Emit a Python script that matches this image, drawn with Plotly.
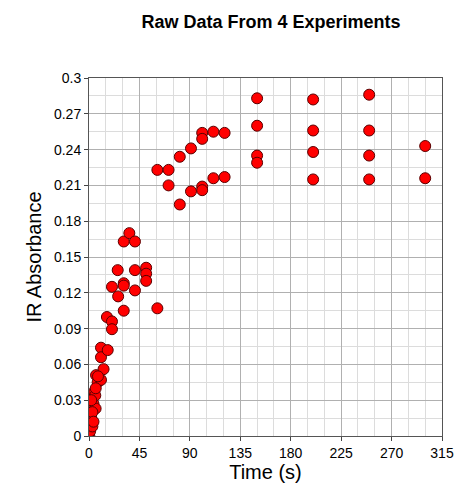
import plotly.graph_objects as go

# time (s) and IR absorbance
time_s = [0.3, 0.3, 1, 1.8, 1.8, 3, 4, 4.7, 5.6, 5.9, 6.3, 7.7, 10.7, 10.7, 10.7, 13, 16.7,
          16, 20.5, 20.5, 20.5, 25.6, 26, 31, 31, 31, 31, 36, 41, 41, 41, 51, 51, 51, 61, 61,
          71, 71, 81, 81, 91, 91, 101, 101, 101, 101, 111, 111, 121, 121,
          150, 150, 150, 150, 200, 200, 200, 200, 250, 250, 250, 250, 300, 300,
          2, 3, 4, 8, 6]
absorbance = [0.0, 0.009, 0.004, 0.018, 0.015, 0.008, 0.027, 0.037, 0.034, 0.023, 0.051, 0.045,
              0.074, 0.066, 0.047, 0.056, 0.072,
              0.0997, 0.125, 0.096, 0.0895, 0.139, 0.117, 0.163, 0.128, 0.126, 0.105, 0.170,
              0.163, 0.139, 0.122, 0.141, 0.136, 0.130, 0.223, 0.107,
              0.223, 0.210, 0.234, 0.194, 0.241, 0.205, 0.254, 0.249, 0.209, 0.206, 0.255,
              0.216, 0.254, 0.217,
              0.283, 0.260, 0.235, 0.229, 0.282, 0.256, 0.238, 0.215, 0.286, 0.256, 0.235,
              0.215, 0.243, 0.216,
              0.030, 0.020, 0.012, 0.050, 0.040]

fig = go.Figure(
    go.Scatter(
        x=time_s,
        y=absorbance,
        mode="markers",
        marker=dict(color="#ff0000", size=11, line=dict(color="#5a0000", width=1)),
    )
)
fig.update_layout(
    width=474,
    height=502,
    plot_bgcolor="white",
    paper_bgcolor="white",
    showlegend=False,
    font=dict(family="Arial, Liberation Sans", color="black", size=14),
    margin=dict(l=81, r=40, t=70, b=74),
    title=dict(text="<b>Raw Data From 4 Experiments</b>", x=0.555, xanchor="center",
               y=0.985, yanchor="top", font=dict(size=18)),
)
fig.update_xaxes(
    range=[0, 315],
    tick0=0,
    dtick=45,
    showgrid=True,
    gridcolor="#b0b0b0",
    minor=dict(dtick=15, showgrid=True, gridcolor="#dcdcdc"),
    linecolor="#555",
    mirror=True,
    zeroline=False,
    ticks="outside",
    ticklen=4,
    automargin=False,
    title=dict(text="Time (s)", font=dict(size=20), standoff=2),
)
fig.update_yaxes(
    range=[0, 0.3],
    tick0=0,
    dtick=0.03,
    tickformat="~g",
    showgrid=True,
    gridcolor="#b0b0b0",
    minor=dict(dtick=0.015, showgrid=True, gridcolor="#dcdcdc"),
    linecolor="#555",
    mirror=True,
    zeroline=False,
    ticks="outside",
    ticklen=4,
    automargin=False,
    title=dict(text="IR Absorbance", font=dict(size=20), standoff=6),
)
fig.write_html("out.html")
